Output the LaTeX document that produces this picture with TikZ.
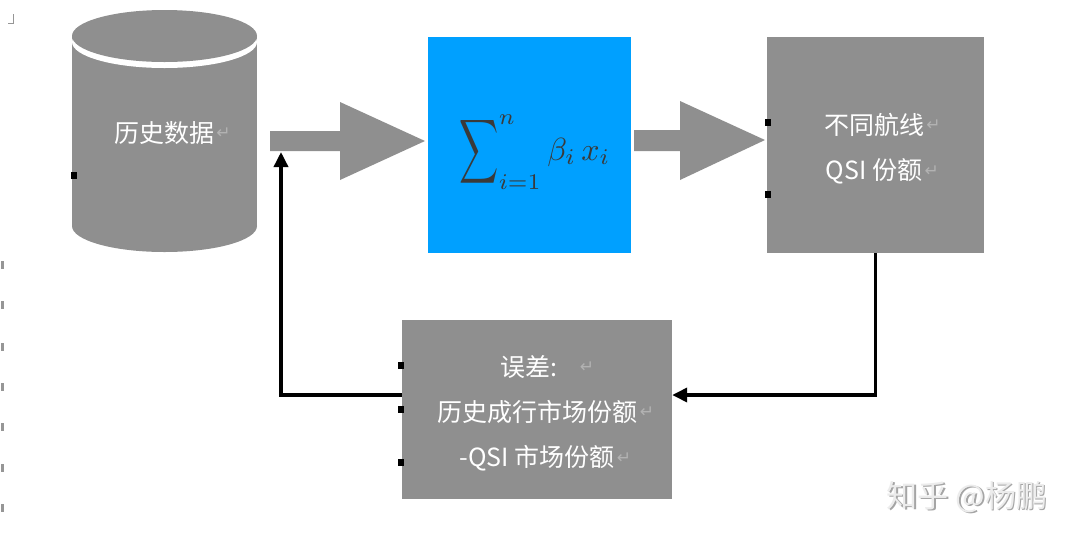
\documentclass[tikz,border=0pt]{standalone}
\usepackage{fontspec}
\usepackage{graphicx}
\newfontfamily\cjk{Noto Sans CJK SC}
\newfontfamily\dejavu{DejaVu Sans}
\usetikzlibrary{arrows.meta,calc}
\definecolor{boxgray}{RGB}{143,143,143}
\definecolor{skyblue}{RGB}{0,160,255}
\definecolor{formulagray}{RGB}{58,58,58}
\definecolor{pmark}{RGB}{178,178,178}
\definecolor{wmlight}{RGB}{236,236,236}
\definecolor{wmshadow}{RGB}{165,165,165}
\definecolor{margingray}{RGB}{150,150,150}
\begin{document}
\begin{tikzpicture}[x=1pt,y=-1pt,
  boxnode/.style={rectangle, fill=#1, draw=none, inner sep=0pt},
  lbl/.style={text=white, font=\cjk\fontsize{25}{29}\selectfont, inner sep=0pt},
  pm/.style={text=pmark, font=\dejavu\fontsize{17}{18}\selectfont, inner sep=0pt, anchor=west},
  conn/.style={draw=black, line width=3.5pt, -{Triangle[length=15pt,width=14pt]}},
  handle/.style={fill=black, minimum width=6pt, minimum height=7pt, inner sep=0pt},
  marginmark/.style={fill=margingray, minimum width=3pt, minimum height=8pt, inner sep=0pt},
  blockarrow/.style={fill=boxgray, draw=none}
]
\useasboundingbox (0,0) rectangle (1080,542);

% left margin marks
\draw[margingray, line width=1pt] (8,23) -- (13,23) -- (13,14);
\foreach \yy [count=\k] in {265,305,347,387,427,468,508}
  \node[marginmark] (m\k) at (2,\yy) {};

% cylinder (historical data)
\fill[boxgray] (72,36) rectangle (257,226);
\fill[boxgray] (164.5,226) ellipse[x radius=92.5, y radius=26];
\fill[white] (164.5,42) ellipse[x radius=92.5, y radius=26];
\fill[boxgray] (164.5,36) ellipse[x radius=92.5, y radius=26];
\node[lbl] (db) at (164,133) {历史数据};
\node[pm] (pm0) at ([xshift=2]db.east) {↵};
\node[handle] (h0) at (74,175) {};

% block arrow 1
\fill[blockarrow] (270,131) -- (340,131) -- (340,102) -- (425,141) -- (340,180) -- (340,151) -- (270,151) -- cycle;
\coordinate (fb) at (281,152);

% formula box
\node[boxnode=skyblue, minimum width=203pt, minimum height=216pt] (model) at (529.5,145) {};
\node[text=formulagray, inner sep=0pt] (formula) at (535,152)
  {\scalebox{3.2}{$\mathop{\vcenter{\hbox{\scalebox{0.85}[1.4]{$\displaystyle\sum$}}}}\nolimits_{i=1}^{n}\beta_i\,x_i$}};

% block arrow 2
\fill[blockarrow] (634,130) -- (680,130) -- (680,101) -- (765,140) -- (680,180) -- (680,151) -- (634,151) -- cycle;

% result box
\node[boxnode=boxgray, minimum width=217pt, minimum height=216pt] (res) at (875.5,145) {};
\node[lbl] (r1) at (874,125) {不同航线};
\node[lbl] (r2) at (874,171) {QSI 份额};
\node[pm] (pm1) at ([xshift=2]r1.east) {↵};
\node[pm] (pm2) at ([xshift=2]r2.east) {↵};
\node[handle] (h1) at (768,122) {};
\node[handle] (h2) at (768,194) {};

% error box
\node[boxnode=boxgray, minimum width=270pt, minimum height=179pt] (err) at (537,409.5) {};
\node[lbl] (e1) at (529,367) {误差:};
\node[lbl] (e2) at (537.5,412) {历史成行市场份额};
\node[lbl] (e3) at (537,458) {-QSI 市场份额};
\node[pm] (pm3) at ([xshift=22]e1.east) {↵};
\node[pm] (pm4) at ([xshift=2]e2.east) {↵};
\node[pm] (pm5) at ([xshift=2]e3.east) {↵};
\node[handle] (h3) at (401,365) {};
\node[handle] (h4) at (401,409) {};
\node[handle] (h5) at (401,462) {};

% connectors
\draw[conn] (res.south) |- ([yshift=14.5pt]err.east);
\draw[conn] ([yshift=14.5pt]err.west) -| (fb);

% watermark
\node[text=wmshadow, font=\cjk\fontsize{31}{34}\selectfont, inner sep=0pt] (wmsh) at (968.2,498.2) {知乎 @杨鹏};
\node[text=wmlight, font=\cjk\fontsize{31}{34}\selectfont, inner sep=0pt] (wm) at (967,497) {知乎 @杨鹏};
\end{tikzpicture}
\end{document}
